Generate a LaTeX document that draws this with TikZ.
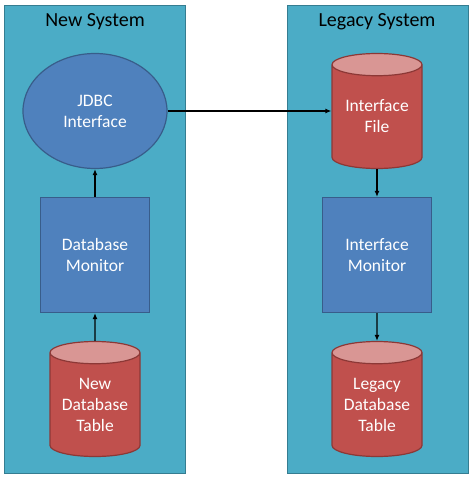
\documentclass[tikz,border=0pt]{standalone}
\usepackage{fontspec}
\setmainfont{Carlito}
\usetikzlibrary{shapes.geometric,arrows.meta}

\definecolor{panelfill}{HTML}{4BACC6}
\definecolor{paneldraw}{HTML}{357D91}
\definecolor{boxfill}{HTML}{4F81BD}
\definecolor{boxdraw}{HTML}{385D8A}
\definecolor{drumfill}{HTML}{C0504D}
\definecolor{drumtop}{HTML}{D99694}
\definecolor{drumdraw}{HTML}{8C3836}

\tikzset{
	panel/.style={draw=paneldraw, fill=panelfill, line width=1pt},
	title/.style={font=\fontsize{20}{24}\selectfont, text=black},
	label text/.style={align=center, text=white, font=\fontsize{17.5}{21}\selectfont},
	monitor/.style={label text, draw=boxdraw, fill=boxfill, line width=1.2pt, minimum width=109pt,
		minimum height=115pt},
	iface/.style={label text, ellipse, draw=boxdraw, fill=boxfill, line width=1.2pt, minimum width=144pt,
		minimum height=115pt},
	drum/.style={cylinder, shape border rotate=90, aspect=0.29, text width=70pt, draw=drumdraw,
		line width=1.2pt, cylinder uses custom fill, cylinder body fill=drumfill,
		cylinder end fill=drumtop, minimum width=90pt, minimum height=115pt, anchor=shape center},
	drumtext/.style={label text, inner sep=0pt},
	link/.style={-{Latex[length=6pt,width=5pt]}, line width=1.2pt, black},
}

\begin{document}
\begin{tikzpicture}[x=1pt, y=-1pt]
		\useasboundingbox (0,0) rectangle (474,479);
		\def\lx{95}
		\def\rx{377}
		% the two systems
		\draw[panel] (4,5) rectangle (185,473);
		\draw[panel] (287,5) rectangle (468,473);
		\node[title] (newtitle) at (\lx,22) {New System};
		\node[title] (legacytitle) at (\rx,22) {Legacy System};
		% new system
		\node[iface] (jdbc) at (\lx,111) {JDBC\\Interface};
		\node[monitor] (dbmon) at (\lx,255) {Database\\Monitor};
		\node[drum] (newtable) at (\lx,399) {};
		\node[drumtext] (newtabletext) at ([yshift=-6pt]newtable.shape center) {New\\Database\\Table};
		% legacy system
		\node[drum] (ifile) at (\rx,111) {};
		\node[drumtext] (ifiletext) at ([yshift=-5pt]ifile.shape center) {Interface\\File};
		\node[monitor] (ifmon) at (\rx,255) {Interface\\Monitor};
		\node[drum] (legtable) at (\rx,399) {};
		\node[drumtext] (legtabletext) at ([yshift=-6pt]legtable.shape center) {Legacy\\Database\\Table};
		% flows
		\draw[link] (newtable) -- (dbmon);
		\draw[link] (dbmon) -- (jdbc);
		\draw[link] (jdbc.east) -- (jdbc.east -| ifile.west);
		\draw[link] (ifile) -- (ifmon);
		\draw[link] (ifmon) -- (legtable);
	\end{tikzpicture}
\end{document}
